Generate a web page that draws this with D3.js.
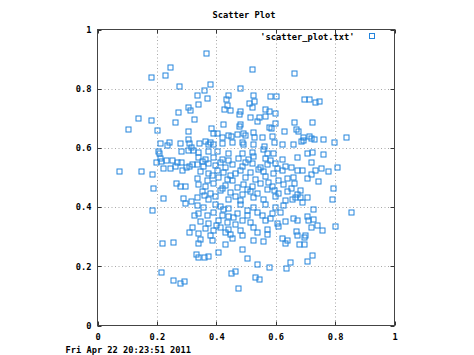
<!DOCTYPE html>
<html>
<head>
<meta charset="utf-8">
<script src="https://cdn.jsdelivr.net/npm/d3@7"></script>
<style>
  html, body { margin: 0; padding: 0; background: #ffffff; }
  svg { display: block; }
  text { font-family: "DejaVu Sans Mono", monospace; font-weight: bold; font-size: 8.7px; fill: #000; }
</style>
</head>
<body>
<svg id="chart" width="474" height="355"></svg>
<script>
const chartTitle = "Scatter Plot";
const seriesName = "'scatter_plot.txt'";
const timestamp = "Fri Apr 22 20:23:51 2011";
const xTicks = [0, 0.2, 0.4, 0.6, 0.8, 1];
const xTickLabels = ["0", "0.2", "0.4", "0.6", "0.8", "1"];
const yTicks = [0, 0.2, 0.4, 0.6, 0.8, 1];
const yTickLabels = ["0", "0.2", "0.4", "0.6", "0.8", "1"];
const gridValues = [0.2, 0.4, 0.6, 0.8];

// scatter points [x, y]
const points = [
  [0.365,0.920],[0.243,0.874],[0.181,0.840],[0.228,0.847],[0.275,0.809],[0.380,0.817],[0.360,0.796],[0.335,0.779],
  [0.369,0.770],[0.440,0.778],[0.433,0.764],[0.338,0.749],[0.306,0.739],[0.311,0.729],[0.271,0.722],[0.435,0.744],
  [0.426,0.730],[0.446,0.728],[0.519,0.867],[0.663,0.854],[0.480,0.801],[0.523,0.780],[0.580,0.774],[0.600,0.774],
  [0.694,0.765],[0.713,0.766],[0.733,0.756],[0.747,0.758],[0.510,0.753],[0.528,0.758],[0.521,0.739],[0.563,0.731],
  [0.577,0.725],[0.480,0.726],[0.475,0.714],
  [0.135,0.700],[0.180,0.694],[0.104,0.663],[0.199,0.660],[0.261,0.689],[0.325,0.697],[0.304,0.657],[0.304,0.629],
  [0.211,0.618],[0.242,0.619],[0.235,0.611],[0.279,0.616],[0.308,0.616],[0.315,0.604],[0.204,0.589],[0.208,0.582],
  [0.281,0.591],[0.306,0.593],[0.323,0.593],
  [0.513,0.705],[0.545,0.703],[0.564,0.708],[0.598,0.717],[0.536,0.692],[0.424,0.681],[0.480,0.681],[0.476,0.674],
  [0.598,0.683],[0.577,0.672],[0.584,0.666],[0.629,0.658],[0.381,0.666],[0.390,0.651],[0.401,0.649],[0.418,0.638],
  [0.440,0.644],[0.449,0.640],[0.469,0.647],[0.489,0.651],[0.497,0.644],[0.525,0.653],[0.528,0.638],[0.553,0.638],
  [0.587,0.640],[0.595,0.621],[0.342,0.618],[0.362,0.624],[0.379,0.619],[0.371,0.612],[0.388,0.612],[0.418,0.616],
  [0.452,0.621],[0.486,0.621],[0.491,0.612],[0.525,0.612],[0.562,0.606],[0.620,0.612],[0.337,0.587],[0.373,0.591],
  [0.401,0.591],[0.440,0.582],[0.486,0.584],[0.519,0.587],[0.558,0.595],[0.570,0.582],[0.592,0.582],
  [0.662,0.686],[0.722,0.686],[0.668,0.663],[0.674,0.658],[0.693,0.638],[0.713,0.641],[0.719,0.634],[0.730,0.629],
  [0.685,0.624],[0.693,0.627],[0.659,0.613],[0.760,0.630],[0.797,0.619],[0.837,0.638],[0.704,0.584],[0.721,0.587],
  [0.760,0.578],
  [0.073,0.523],[0.145,0.523],[0.182,0.512],[0.196,0.553],[0.210,0.567],[0.213,0.556],[0.230,0.559],[0.250,0.559],
  [0.269,0.553],[0.280,0.551],[0.222,0.531],[0.244,0.533],[0.261,0.539],[0.284,0.525],[0.298,0.534],[0.309,0.539],
  [0.319,0.545],[0.186,0.464],[0.264,0.480],[0.278,0.472],[0.295,0.472],[0.220,0.430],[0.289,0.430],[0.314,0.421],
  [0.339,0.568],[0.362,0.561],[0.390,0.570],[0.418,0.563],[0.440,0.559],[0.474,0.567],[0.508,0.562],[0.525,0.571],
  [0.564,0.566],[0.581,0.558],[0.620,0.564],
  [0.334,0.545],[0.356,0.538],[0.373,0.548],[0.396,0.541],[0.429,0.536],[0.452,0.546],[0.486,0.540],[0.519,0.549],
  [0.547,0.537],[0.570,0.544],[0.598,0.548],[0.631,0.539],
  [0.345,0.523],[0.373,0.516],[0.401,0.526],[0.424,0.519],[0.463,0.514],[0.480,0.525],[0.513,0.518],[0.558,0.522],
  [0.592,0.515],[0.620,0.527],
  [0.334,0.500],[0.368,0.493],[0.407,0.503],[0.435,0.496],[0.452,0.490],[0.497,0.501],[0.530,0.494],[0.564,0.505],
  [0.609,0.492],[0.637,0.499],
  [0.339,0.478],[0.362,0.471],[0.390,0.481],[0.429,0.473],[0.469,0.468],[0.491,0.479],[0.519,0.472],[0.547,0.483],
  [0.587,0.470],[0.626,0.477],
  [0.351,0.455],[0.379,0.448],[0.412,0.458],[0.446,0.450],[0.486,0.445],[0.513,0.456],[0.536,0.449],[0.570,0.460],
  [0.609,0.447],[0.637,0.454],
  [0.334,0.433],[0.373,0.426],[0.396,0.436],[0.440,0.428],[0.480,0.424],[0.525,0.434],[0.558,0.427],[0.598,0.437],
  [0.631,0.425],
  [0.352,0.556],[0.412,0.551],[0.497,0.553],[0.541,0.529],[0.604,0.531],[0.385,0.509],[0.446,0.507],[0.575,0.485],
  [0.420,0.463],[0.503,0.462],[0.595,0.458],[0.358,0.441],[0.462,0.437],
  [0.671,0.570],[0.718,0.553],[0.652,0.536],[0.673,0.525],[0.688,0.525],[0.732,0.525],[0.753,0.531],[0.775,0.523],
  [0.805,0.534],[0.718,0.512],[0.704,0.497],[0.657,0.501],[0.743,0.488],[0.663,0.480],[0.652,0.464],[0.682,0.458],
  [0.792,0.464],[0.671,0.443],[0.665,0.435],[0.682,0.435],[0.704,0.435],[0.791,0.426],[0.654,0.426],
  [0.182,0.390],[0.295,0.415],[0.326,0.373],[0.317,0.334],[0.309,0.317],[0.216,0.280],[0.253,0.283],
  [0.334,0.408],[0.356,0.401],[0.396,0.410],[0.412,0.403],[0.440,0.398],[0.480,0.409],[0.525,0.402],[0.564,0.411],
  [0.598,0.399],[0.626,0.406],
  [0.339,0.380],[0.368,0.373],[0.390,0.383],[0.418,0.375],[0.440,0.370],[0.469,0.381],[0.502,0.374],[0.536,0.385],
  [0.553,0.372],[0.587,0.379],[0.614,0.383],
  [0.345,0.354],[0.373,0.347],[0.407,0.357],[0.435,0.349],[0.463,0.344],[0.486,0.355],[0.513,0.348],[0.564,0.358],
  [0.603,0.345],[0.631,0.352],
  [0.362,0.331],[0.390,0.324],[0.412,0.334],[0.440,0.326],[0.480,0.321],[0.525,0.332],[0.570,0.325],[0.609,0.335],
  [0.339,0.314],[0.379,0.307],[0.429,0.316],[0.446,0.309],[0.486,0.305],[0.536,0.316],[0.570,0.308],
  [0.345,0.293],[0.385,0.288],[0.452,0.296],[0.525,0.289],[0.558,0.285],[0.620,0.294],[0.637,0.290],
  [0.339,0.280],[0.429,0.276],[0.631,0.278],
  [0.423,0.392],[0.505,0.391],[0.580,0.362],[0.455,0.365],[0.398,0.340],
  [0.725,0.393],[0.854,0.382],[0.657,0.362],[0.671,0.356],[0.706,0.370],[0.708,0.356],[0.727,0.359],[0.738,0.340],
  [0.718,0.332],[0.755,0.323],[0.800,0.336],[0.668,0.319],[0.673,0.306],[0.699,0.306],[0.695,0.298],[0.678,0.275],
  [0.695,0.275],[0.688,0.418],
  [0.332,0.242],[0.337,0.230],[0.359,0.232],[0.373,0.235],[0.407,0.249],[0.486,0.257],[0.502,0.227],[0.449,0.176],
  [0.463,0.185],[0.472,0.127],[0.537,0.208],[0.578,0.198],[0.530,0.163],[0.545,0.157],[0.634,0.195],[0.648,0.215],
  [0.706,0.219],[0.722,0.239],[0.215,0.180],[0.255,0.155],[0.279,0.145],[0.291,0.149]
];

const markerColor = "#2384dc";
const svg = d3.select("#chart");
const plotLeft = 97.5, plotRight = 394.5, plotTop = 29.5, plotBottom = 325.5;
const x = d3.scaleLinear().domain([0, 1]).range([plotLeft, plotRight]);
const y = d3.scaleLinear().domain([0, 1]).range([plotBottom, plotTop]);

// grid
const grid = svg.append("g").attr("stroke", "#a8a8a8").attr("stroke-width", 1).attr("stroke-dasharray", "1,2.5");
grid.selectAll("line.gx").data(gridValues).join("line").attr("class", "gx")
  .attr("x1", d => Math.round(x(d)) + 0.5).attr("x2", d => Math.round(x(d)) + 0.5)
  .attr("y1", plotTop).attr("y2", plotBottom);
grid.selectAll("line.gy").data(gridValues).join("line").attr("class", "gy")
  .attr("x1", plotLeft).attr("x2", plotRight)
  .attr("y1", d => Math.round(y(d)) + 0.5).attr("y2", d => Math.round(y(d)) + 0.5);

// axes (labels via d3 axis)
const xAxis = d3.axisBottom(x).tickValues(xTicks).tickFormat((d, i) => xTickLabels[i]).tickSize(0).tickPadding(8);
const gx = svg.append("g").attr("transform", `translate(0,${plotBottom})`).call(xAxis);
gx.select(".domain").remove();
gx.selectAll("text").attr("font-family", null).attr("font-size", null);

const yAxis = d3.axisLeft(y).tickValues(yTicks).tickFormat((d, i) => yTickLabels[i]).tickSize(0).tickPadding(6);
const gy = svg.append("g").attr("transform", `translate(${plotLeft},0)`).call(yAxis);
gy.select(".domain").remove();
gy.selectAll("text").attr("font-family", null).attr("font-size", null);

// inward ticks (mirrored)
const tickLen = 4;
const ticks = svg.append("g").attr("stroke", "#333").attr("stroke-width", 1);
xTicks.forEach(v => {
  const px = Math.round(x(v)) + 0.5;
  ticks.append("line").attr("x1", px).attr("x2", px).attr("y1", plotBottom).attr("y2", plotBottom - tickLen);
  ticks.append("line").attr("x1", px).attr("x2", px).attr("y1", plotTop).attr("y2", plotTop + tickLen);
});
yTicks.forEach(v => {
  const py = Math.round(y(v)) + 0.5;
  ticks.append("line").attr("x1", plotLeft).attr("x2", plotLeft + tickLen).attr("y1", py).attr("y2", py);
  ticks.append("line").attr("x1", plotRight).attr("x2", plotRight - tickLen).attr("y1", py).attr("y2", py);
});

// border
svg.append("rect").attr("x", plotLeft).attr("y", plotTop).attr("width", plotRight - plotLeft).attr("height", plotBottom - plotTop)
  .attr("fill", "none").attr("stroke", "#444").attr("stroke-width", 1);

// points
const half = 2.5;
svg.append("g").selectAll("rect").data(points).join("rect")
  .attr("x", d => Math.round(x(d[0])) - half + 0.5)
  .attr("y", d => Math.round(y(d[1])) - half + 0.5)
  .attr("width", half * 2).attr("height", half * 2)
  .attr("fill", "none").attr("stroke", markerColor).attr("stroke-width", 1);

// title
svg.append("text").attr("x", (plotLeft + plotRight) / 2 - 2).attr("y", 15).attr("text-anchor", "middle")
  .attr("dominant-baseline", "central").text(chartTitle);

// legend
svg.append("text").attr("x", 354.5).attr("y", 36.5).attr("text-anchor", "end")
  .attr("dominant-baseline", "central").text(seriesName);
svg.append("rect").attr("x", 369.5).attr("y", 33.5).attr("width", 5).attr("height", 5)
  .attr("fill", "none").attr("stroke", markerColor).attr("stroke-width", 1);

// timestamp
svg.append("text").attr("x", 65.5).attr("y", 349.5).attr("dominant-baseline", "central").text(timestamp);
</script>
</body>
</html>
